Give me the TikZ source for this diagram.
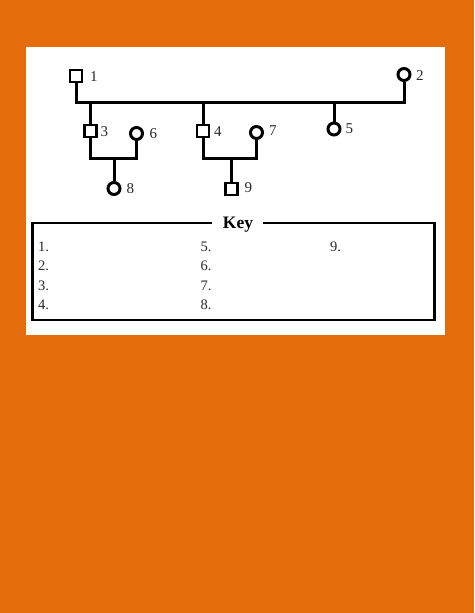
\documentclass[tikz,border=0pt]{standalone}
\usepackage{fontspec}
\setmainfont{Liberation Serif}
\definecolor{bgorange}{RGB}{228,108,10}
\definecolor{txtgray}{RGB}{40,40,40}
\begin{document}
\begin{tikzpicture}[x=1pt,y=-1pt,
  male/.style={draw,line width=2.8pt,minimum size=12pt,inner sep=0pt},
  female/.style={circle,draw,line width=3pt,minimum size=12pt,inner sep=0pt},
  lbl/.style={font=\fontsize{15}{15}\selectfont,text=txtgray,anchor=west,inner sep=0pt},
  keyitem/.style={font=\fontsize{14.5}{14.5}\selectfont,text=txtgray,anchor=base west,inner sep=0pt},
  link/.style={line width=3pt},
  keybox/.style={line width=2.4pt}
]
\fill[bgorange] (0,0) rectangle (474,613);
\fill[white] (26,47) rectangle (445,335);
\useasboundingbox (0,0) rectangle (474,613);

% generation I
\node[male] (p1) at (76,76) {};
\node[female] (p2) at (404,74.5) {};
\coordinate (a1) at (76,102);
\coordinate (a2) at (404,102);
\draw[link] (p1) -- (a1) -- (a2) -- (p2);

% generation II
\node[male] (p3) at (90.5,131) {};
\node[female] (p6) at (136.5,133.5) {};
\node[male] (p4) at (203,131) {};
\node[female] (p7) at (256.5,132.5) {};
\node[female] (p5) at (334,129) {};
\coordinate (d3) at (90.5,102);
\coordinate (d4) at (203,102);
\coordinate (d5) at (334,102);
\draw[link] (d3) -- (p3);
\draw[link] (d4) -- (p4);
\draw[link] (d5) -- (p5);

% generation III
\node[female] (p8) at (114,188.5) {};
\node[male] (p9) at (231.5,189) {};
\coordinate (c3) at (90.5,158.7);
\coordinate (c6) at (136.5,158.7);
\coordinate (k8) at (114,158.7);
\coordinate (c4) at (203,158.7);
\coordinate (c7) at (256.5,158.7);
\coordinate (k9) at (231.5,158.7);
\draw[link] (p3) -- (c3) -- (c6) -- (p6);
\draw[link] (k8) -- (p8);
\draw[link] (p4) -- (c4) -- (c7) -- (p7);
\draw[link] (k9) -- (p9);

% labels
\node[lbl] (l1) at (90,76.7) {1};
\node[lbl] (l2) at (416,75.3) {2};
\node[lbl] (l3) at (100.5,132) {3};
\node[lbl] (l4) at (214,131.7) {4};
\node[lbl] (l5) at (345.5,129) {5};
\node[lbl] (l6) at (149.5,133.3) {6};
\node[lbl] (l7) at (269,131) {7};
\node[lbl] (l8) at (126.5,188.7) {8};
\node[lbl] (l9) at (244.5,188) {9};

% key
\draw[keybox] (211.7,222.7) -- (32.3,222.7) -- (32.3,320) -- (434.3,320) -- (434.3,222.7) -- (263.3,222.7);
\node[font=\bfseries\fontsize{17.5}{17.5}\selectfont,anchor=base,inner sep=0pt] (key) at (238,228.5) {Key};

\node[keyitem] (k1) at (38,251.5) {1.};
\node[keyitem] (k2) at (38,270.8) {2.};
\node[keyitem] (k3) at (38,290) {3.};
\node[keyitem] (k4) at (38,309.3) {4.};
\node[keyitem] (k5) at (200.5,251.5) {5.};
\node[keyitem] (k6) at (200.5,270.8) {6.};
\node[keyitem] (k7) at (200.5,290) {7.};
\node[keyitem] (k8) at (200.5,309.3) {8.};
\node[keyitem] (k9) at (330,251.5) {9.};
\end{tikzpicture}
\end{document}
